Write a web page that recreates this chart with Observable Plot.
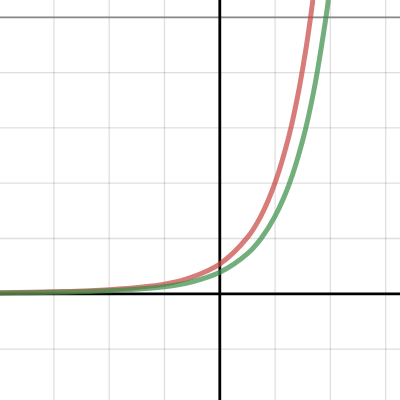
<!DOCTYPE html>
<html>
<head>
<meta charset="utf-8">
<script src="https://cdn.jsdelivr.net/npm/d3@7"></script>
<script src="https://cdn.jsdelivr.net/npm/@observablehq/plot@0.6"></script>
<style>
  html, body { margin: 0; padding: 0; background: #fff; }
  #chart svg { display: block; }
</style>
</head>
<body>
<div id="chart"></div>
<script>
// Grid positions (units)
const gridX = [-3, -2, -1, 1, 2, 3];
const gridY = [-1, 1, 2, 3, 4, 5];
// Horizontal reference line
const refY = [5];

// Red curve, points
const redX = [-3.97, -3, -2, -1, -0.5, 0, 0.5, 0.75, 1.0, 1.25, 1.4, 1.55, 1.64, 1.68];
const redY = [0.021, 0.037, 0.075, 0.175, 0.304, 0.54, 1.02, 1.42, 2.01, 2.85, 3.53, 4.38, 4.99, 5.29];

// Green curve, points
const greenX = [-3.97, -3, -2, -1, -0.5, 0, 0.5, 0.75, 1.0, 1.25, 1.5, 1.7, 1.92, 1.96];
const greenY = [0.015, 0.027, 0.054, 0.127, 0.219, 0.39, 0.727, 1.007, 1.406, 1.97, 2.78, 3.67, 5.0, 5.29];

const red = redX.map((x, i) => ({x, y: redY[i]}));
const green = greenX.map((x, i) => ({x, y: greenY[i]}));

const chart = Plot.plot({
  width: 400,
  height: 400,
  margin: 0,
  x: {domain: [-3.966, 3.268], axis: null},
  y: {domain: [-1.929, 5.304], axis: null},
  marks: [
    Plot.ruleX(gridX, {stroke: "#000", strokeOpacity: 0.13, strokeWidth: 1.3}),
    Plot.ruleY(gridY, {stroke: "#000", strokeOpacity: 0.13, strokeWidth: 1.3}),
    Plot.ruleY(refY, {stroke: "#888", strokeWidth: 1.8}),
    Plot.ruleX([0], {stroke: "#000", strokeWidth: 2.8}),
    Plot.ruleY([0], {stroke: "#000", strokeWidth: 2.8}),
    Plot.line(red, {x: "x", y: "y", stroke: "#c74440", strokeOpacity: 0.7, strokeWidth: 5, curve: "catmull-rom"}),
    Plot.line(green, {x: "x", y: "y", stroke: "#388c46", strokeOpacity: 0.7, strokeWidth: 5, curve: "catmull-rom"})
  ]
});
document.getElementById("chart").appendChild(chart);
</script>
</body>
</html>
